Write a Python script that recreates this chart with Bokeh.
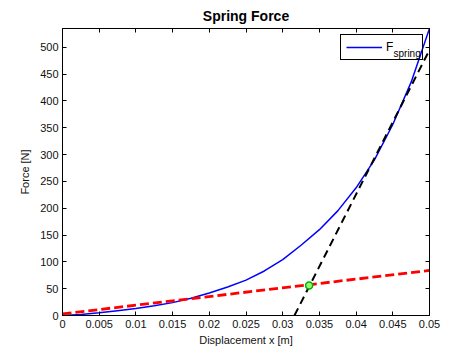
from bokeh.plotting import figure
from bokeh.models import Range1d, FixedTicker, LinearAxis, Legend, LegendItem, Label
from bokeh.embed import file_html
from bokeh.resources import INLINE

# ---- data ----
disp = [0.0, 0.0025, 0.005, 0.0075, 0.01, 0.0125, 0.015, 0.0175, 0.02, 0.0225,
        0.025, 0.0275, 0.03, 0.0325, 0.035, 0.0375, 0.04, 0.0425, 0.045, 0.0475, 0.05]
f_spring = [0, 2, 5, 9, 13, 18, 24, 32, 42, 53,
            66, 83, 104, 131, 160, 195, 238, 290, 356, 435, 535]

lin_x = [0.0, 0.05]
lin_f = [3, 84]

tan_x = [0.0316, 0.05]
tan_f = [0, 495]

eq_x = [0.0336]
eq_f = [56]

x_ticks = [0, 0.005, 0.01, 0.015, 0.02, 0.025, 0.03, 0.035, 0.04, 0.045, 0.05]
x_tick_labels = ["0", "0.005", "0.01", "0.015", "0.02", "0.025", "0.03",
                 "0.035", "0.04", "0.045", "0.05"]
y_ticks = [0, 50, 100, 150, 200, 250, 300, 350, 400, 450, 500]
y_tick_labels = [str(v) for v in y_ticks]

X_MAX = 0.05
Y_MAX = 535

FONT = "Liberation Sans"

p = figure(width=474, height=354, output_backend="svg", toolbar_location=None,
           x_range=Range1d(0, X_MAX), y_range=Range1d(0, Y_MAX),
           min_border_left=62, min_border_right=45, min_border_top=27,
           min_border_bottom=39, title="Spring Force")

p.title.text_font = FONT
p.title.text_font_size = "14px"
p.title.text_font_style = "bold"
p.title.align = "center"
p.title.text_color = "black"

p.background_fill_color = "white"
p.border_fill_color = "white"
p.outline_line_color = "black"
p.outline_line_alpha = 1
p.xgrid.visible = False
p.ygrid.visible = False

for ax in p.xaxis:
    ax.ticker = FixedTicker(ticks=x_ticks)
    ax.major_label_overrides = {t: l for t, l in zip(x_ticks, x_tick_labels)}
    ax.axis_label = "Displacement x [m]"
for ax in p.yaxis:
    ax.ticker = FixedTicker(ticks=y_ticks)
    ax.major_label_overrides = {t: l for t, l in zip(y_ticks, y_tick_labels)}
    ax.axis_label = "Force [N]"

for ax in list(p.xaxis) + list(p.yaxis):
    ax.major_tick_in = 4
    ax.major_tick_out = 0
    ax.minor_tick_in = 0
    ax.minor_tick_out = 0
    ax.axis_line_color = "black"
    ax.major_tick_line_color = "black"
    ax.major_label_text_font = FONT
    ax.major_label_text_font_size = "11px"
    ax.major_label_text_color = "#111111"
    ax.axis_label_text_font = FONT
    ax.axis_label_text_font_size = "11px"
    ax.axis_label_text_font_style = "normal"
    ax.axis_label_text_color = "#111111"
    ax.major_label_standoff = 4
p.xaxis.axis_label_standoff = 3
p.yaxis.axis_label_standoff = 6

# top and right axes just for inward ticks on the box (no labels)
top = LinearAxis(ticker=FixedTicker(ticks=x_ticks),
                 major_label_overrides={t: "" for t in x_ticks},
                 major_label_standoff=0, major_tick_in=4, major_tick_out=0,
                 minor_tick_in=0, minor_tick_out=0, axis_line_color="black")
right = LinearAxis(ticker=FixedTicker(ticks=y_ticks),
                   major_label_overrides={t: "" for t in y_ticks},
                   major_label_standoff=0, major_tick_in=4, major_tick_out=0,
                   minor_tick_in=0, minor_tick_out=0, axis_line_color="black")
p.add_layout(top, "above")
p.add_layout(right, "right")

blue = p.line(disp, f_spring, line_color="#0000ff", line_width=1.5)
p.line(lin_x, lin_f, line_color="#ff0000", line_width=2.8, line_dash="9 4")
p.line(tan_x, tan_f, line_color="black", line_width=2, line_dash="8 5")
p.scatter(eq_x, eq_f, marker="circle", size=7, line_color="#00b000",
          fill_color="#90ff70", line_width=1.5)

# legend with transparent background so that the subscript label shows through
legend = Legend(items=[LegendItem(label="F", renderers=[blue])],
                location="top_right", margin=6, padding=5,
                glyph_width=36, glyph_height=14, label_width=31, label_height=14,
                label_standoff=4, border_line_color="black", border_line_alpha=1,
                label_text_font=FONT, label_text_font_size="12px",
                label_text_color="black", background_fill_alpha=0)
p.add_layout(legend)

sub = Label(x=X_MAX * 0.9019, y=Y_MAX * 0.9137, text="spring",
            text_font=FONT, text_font_size="10px", text_color="black",
            text_baseline="alphabetic")
p.add_layout(sub)

open("out.html", "w").write(file_html(p, INLINE))
